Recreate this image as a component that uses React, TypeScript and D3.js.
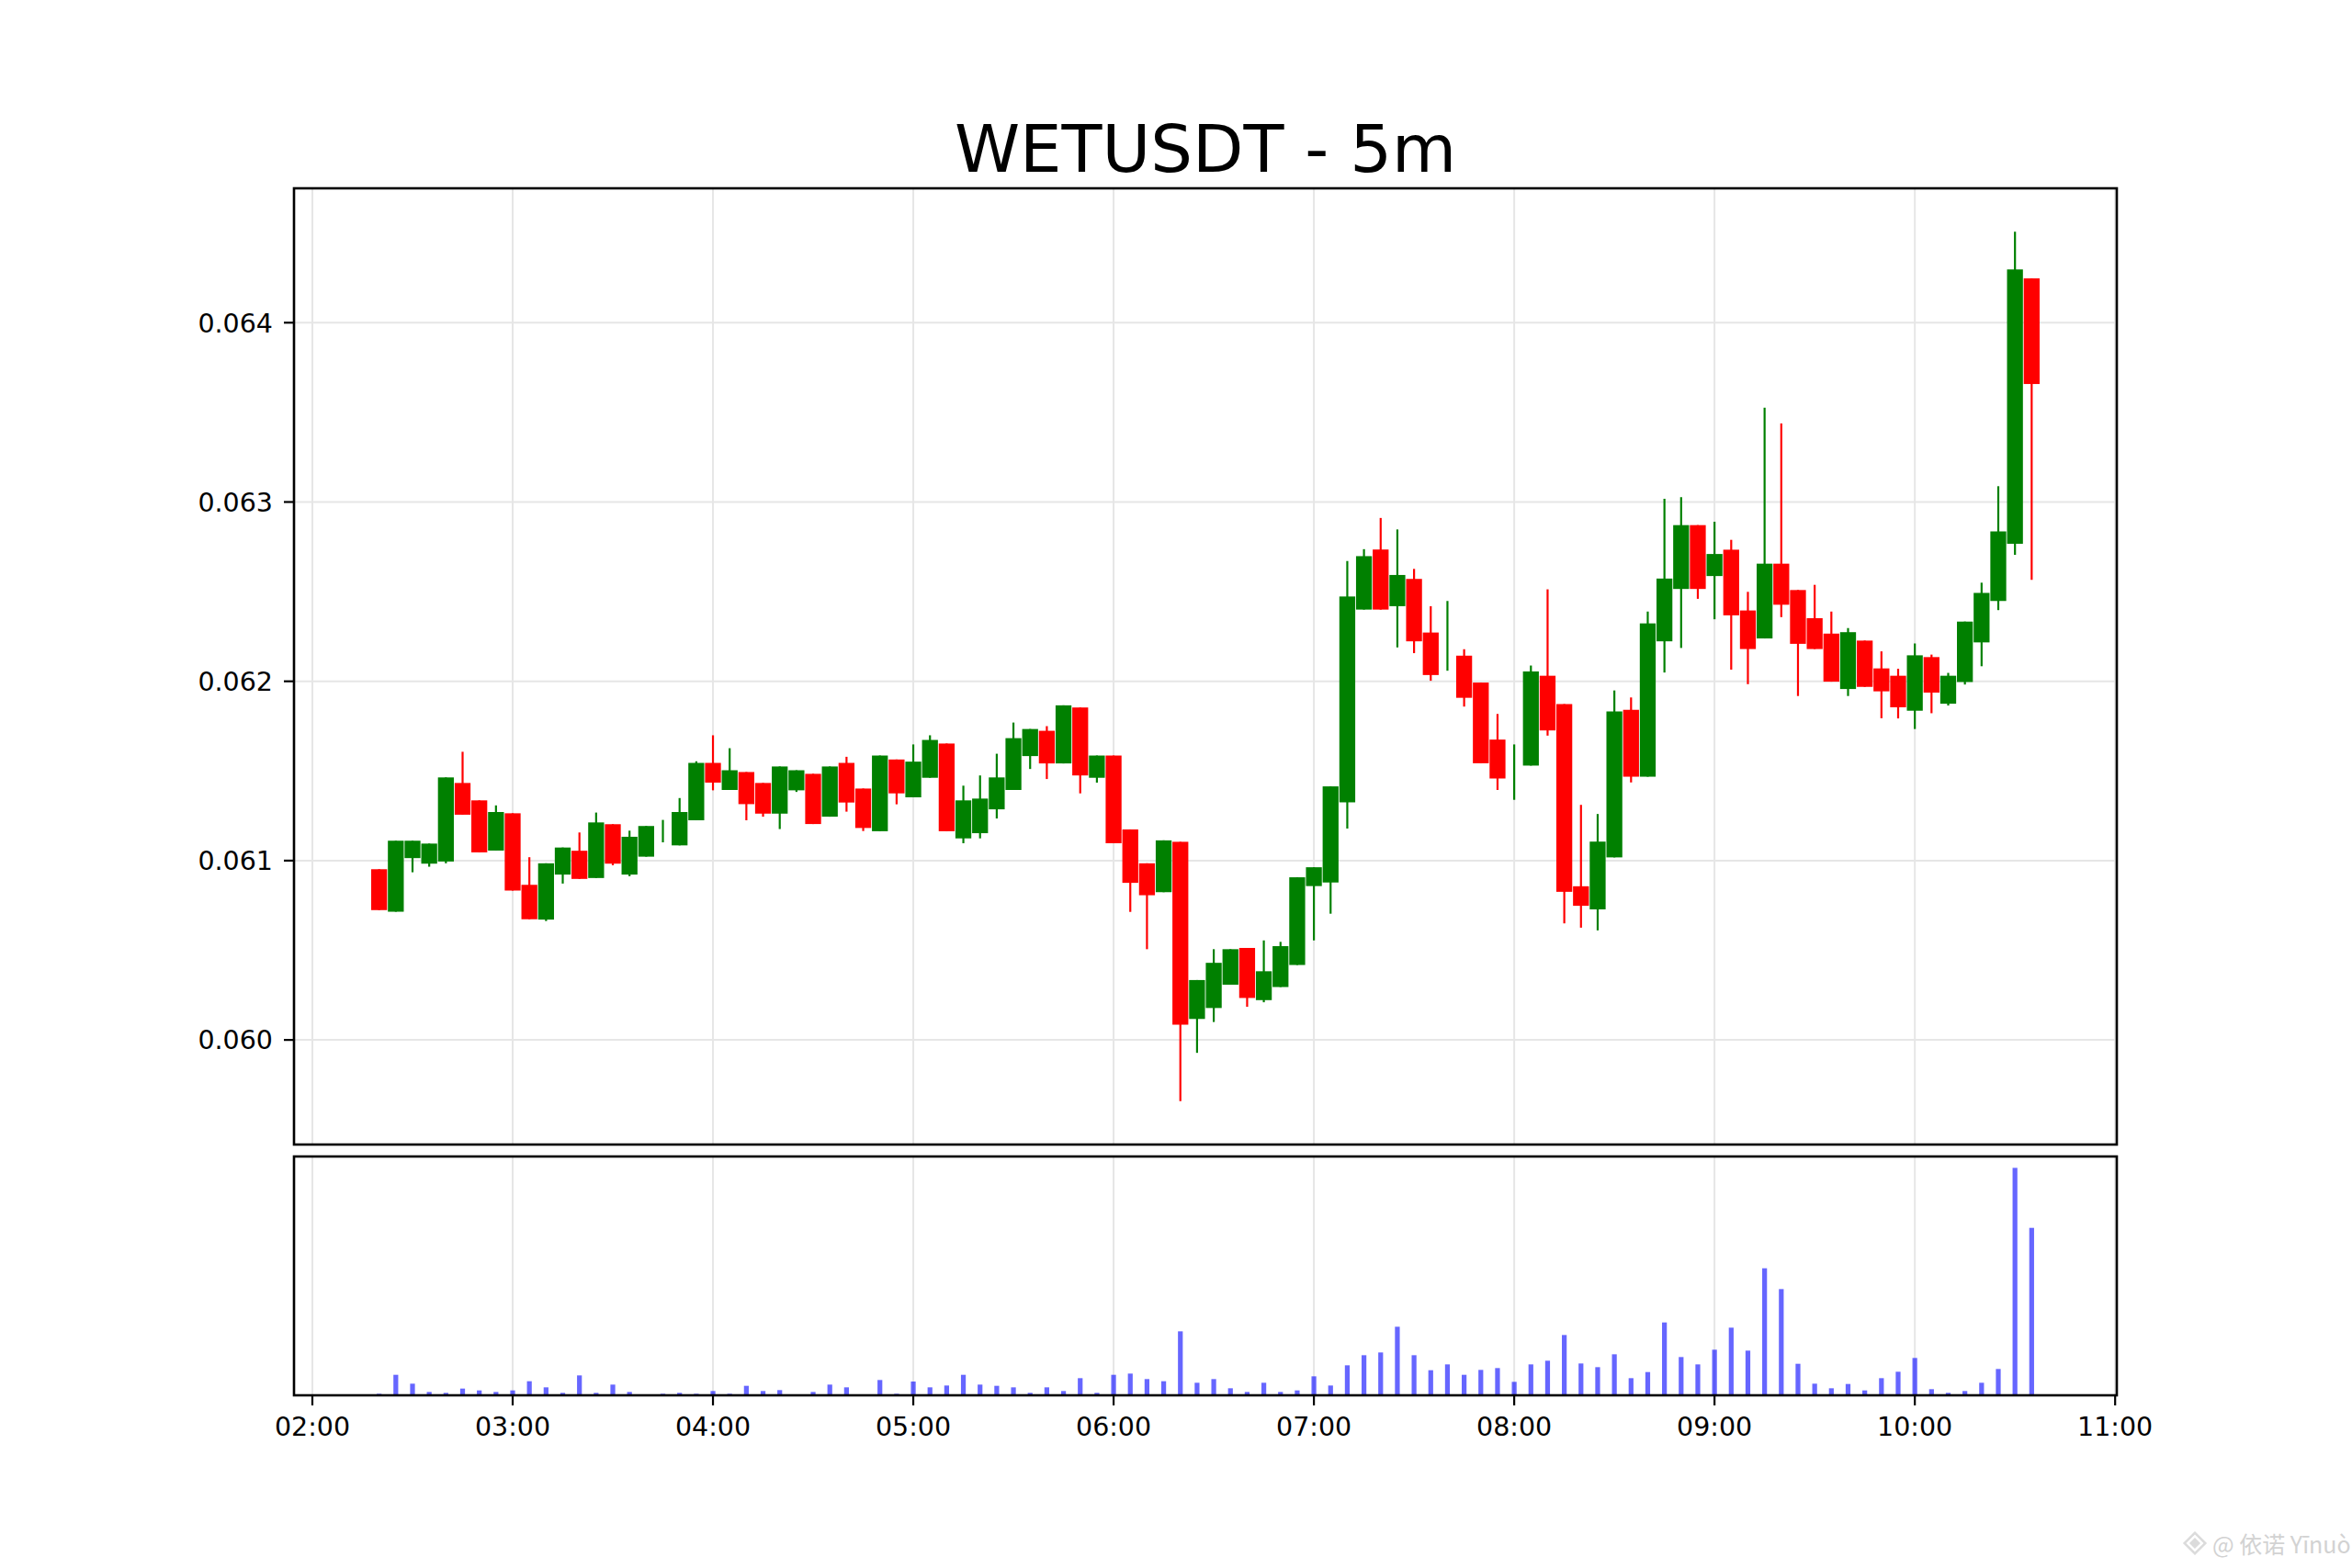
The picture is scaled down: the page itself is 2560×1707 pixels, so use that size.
import React from 'react';
import * as d3 from 'd3';

// ---- data ----
const TITLE = 'WETUSDT - 5m';
const START = '2024-01-01T02:20:00Z';
const STEP_MIN = 5;

const opens = [
  0.060952, 0.060715, 0.061014, 0.060983, 0.060995, 0.061433, 0.061336, 0.061056, 0.061264, 0.060865,
  0.060671, 0.060922, 0.061055, 0.060903, 0.061203, 0.060922, 0.061022, 0.061150, 0.061085, 0.061225,
  0.061545, 0.061394, 0.061494, 0.061433, 0.061262, 0.061392, 0.061484, 0.061245, 0.061545, 0.061402,
  0.061164, 0.061564, 0.061353, 0.061462, 0.061653, 0.061124, 0.061153, 0.061286, 0.061394, 0.061583,
  0.061724, 0.061542, 0.061854, 0.061462, 0.061586, 0.061174, 0.060985, 0.060824, 0.061105, 0.060117,
  0.060178, 0.060308, 0.060513, 0.060222, 0.060295, 0.060418, 0.060858, 0.060878, 0.061325, 0.062400,
  0.062735, 0.062419, 0.062571, 0.062272, 0.062250, 0.062143, 0.061993, 0.061675, 0.061500, 0.061530,
  0.062031, 0.061873, 0.060857, 0.060728, 0.061018, 0.061841, 0.061468, 0.062223, 0.062515, 0.062871,
  0.062587, 0.062734, 0.062395, 0.062239, 0.062656, 0.062509, 0.062352, 0.062266, 0.061957, 0.062227,
  0.062072, 0.062031, 0.061836, 0.062135, 0.061875, 0.061996, 0.062217, 0.062448, 0.062767, 0.064247,
];
const highs = [
  0.060952, 0.061111, 0.061111, 0.061095, 0.061464, 0.061607, 0.061336, 0.061308, 0.061264, 0.061019,
  0.060985, 0.061073, 0.061157, 0.061268, 0.061203, 0.061167, 0.061193, 0.061227, 0.061349, 0.061554,
  0.061699, 0.061627, 0.061494, 0.061433, 0.061525, 0.061504, 0.061484, 0.061525, 0.061579, 0.061402,
  0.061586, 0.061564, 0.061648, 0.061699, 0.061653, 0.061418, 0.061475, 0.061596, 0.061770, 0.061734,
  0.061750, 0.061866, 0.061854, 0.061586, 0.061586, 0.061174, 0.060985, 0.061113, 0.061105, 0.060334,
  0.060506, 0.060506, 0.060513, 0.060555, 0.060547, 0.060907, 0.060963, 0.061414, 0.062671, 0.062737,
  0.062911, 0.062847, 0.062627, 0.062419, 0.062448, 0.062179, 0.061993, 0.061818, 0.061648, 0.062088,
  0.062513, 0.061873, 0.061311, 0.061260, 0.061949, 0.061910, 0.062389, 0.063018, 0.063027, 0.062871,
  0.062890, 0.062789, 0.062499, 0.063526, 0.063438, 0.062509, 0.062538, 0.062389, 0.062297, 0.062227,
  0.062167, 0.062070, 0.062211, 0.062149, 0.062047, 0.062333, 0.062550, 0.063088, 0.064507, 0.064247,
];
const lows = [
  0.060724, 0.060715, 0.060935, 0.060966, 0.060985, 0.061256, 0.061046, 0.061056, 0.060833, 0.060673,
  0.060663, 0.060872, 0.060898, 0.060903, 0.060974, 0.060913, 0.061022, 0.061102, 0.061085, 0.061225,
  0.061392, 0.061394, 0.061225, 0.061245, 0.061176, 0.061383, 0.061204, 0.061245, 0.061273, 0.061165,
  0.061164, 0.061314, 0.061353, 0.061462, 0.061164, 0.061097, 0.061124, 0.061235, 0.061394, 0.061511,
  0.061455, 0.061542, 0.061375, 0.061435, 0.061097, 0.060714, 0.060506, 0.060824, 0.059659, 0.059928,
  0.060100, 0.060308, 0.060185, 0.060210, 0.060295, 0.060418, 0.060555, 0.060704, 0.061179, 0.062400,
  0.062400, 0.062189, 0.062157, 0.062003, 0.062059, 0.061859, 0.061543, 0.061394, 0.061339, 0.061530,
  0.061697, 0.060650, 0.060626, 0.060611, 0.061018, 0.061436, 0.061468, 0.062049, 0.062186, 0.062460,
  0.062346, 0.062065, 0.061984, 0.062239, 0.062358, 0.061918, 0.062180, 0.061998, 0.061918, 0.061969,
  0.061794, 0.061793, 0.061734, 0.061822, 0.061865, 0.061982, 0.062084, 0.062397, 0.062705, 0.062566,
];
const closes = [
  0.060724, 0.061111, 0.061111, 0.061095, 0.061464, 0.061256, 0.061046, 0.061271, 0.060833, 0.060673,
  0.060985, 0.061073, 0.060898, 0.061213, 0.060983, 0.061133, 0.061193, 0.061150, 0.061271, 0.061545,
  0.061435, 0.061504, 0.061315, 0.061262, 0.061525, 0.061504, 0.061204, 0.061525, 0.061324, 0.061182,
  0.061586, 0.061375, 0.061552, 0.061673, 0.061164, 0.061336, 0.061346, 0.061464, 0.061683, 0.061734,
  0.061542, 0.061866, 0.061475, 0.061586, 0.061097, 0.060876, 0.060807, 0.061113, 0.060085, 0.060334,
  0.060430, 0.060506, 0.060234, 0.060383, 0.060523, 0.060907, 0.060963, 0.061414, 0.062473, 0.062698,
  0.062400, 0.062593, 0.062223, 0.062035, 0.062250, 0.061908, 0.061543, 0.061458, 0.061500, 0.062055,
  0.061726, 0.060826, 0.060748, 0.061106, 0.061832, 0.061468, 0.062323, 0.062573, 0.062871, 0.062515,
  0.062710, 0.062368, 0.062180, 0.062656, 0.062427, 0.062209, 0.062180, 0.061998, 0.062274, 0.061969,
  0.061944, 0.061855, 0.062145, 0.061937, 0.062031, 0.062333, 0.062493, 0.062836, 0.064297, 0.063658,
];
const volumes = [
  5, 67, 38, 11, 8, 22, 16, 11, 16, 46,
  26, 8, 65, 8, 35, 11, 3, 5, 8, 5,
  14, 5, 31, 14, 17, 2, 11, 35, 26, 2,
  50, 5, 45, 26, 32, 67, 35, 31, 26, 8,
  26, 14, 56, 8, 67, 71, 53, 46, 209, 41,
  53, 23, 11, 41, 11, 16, 62, 32, 98, 131,
  140, 224, 131, 82, 101, 67, 83, 89, 44, 101,
  113, 197, 104, 92, 134, 56, 76, 238, 125, 101,
  149, 221, 146, 415, 347, 103, 38, 23, 37, 16,
  56, 77, 122, 20, 8, 14, 41, 86, 743, 547,
];
const yTickValues = [0.060, 0.061, 0.062, 0.063, 0.064];
const WATERMARK = '@ 依诺 Yīnuò';

const times = opens.map((_, i) => new Date(Date.parse(START) + i * STEP_MIN * 60000));

// ---- layout ----
const W = 2560;
const H = 1707;
const LEFT = 320;
const RIGHT = 2304;
const MAIN_TOP = 205;
const MAIN_BOTTOM = 1246;
const VOL_TOP = 1259;
const VOL_BOTTOM = 1519;
const FONT = "'DejaVu Sans', Verdana, sans-serif";
const GRID = '#e6e6e6';
const UP = '#008000';
const DOWN = '#ff0000';
const MIN = 60000;

export default function App() {
  const t0 = times[0].getTime();
  const t1 = times[times.length - 1].getTime();
  const x = d3.scaleUtc().domain([new Date(t0 - 25.5 * MIN), new Date(t1 + 25.5 * MIN)]).range([LEFT, RIGHT]);
  const lo = d3.min(lows) as number;
  const hi = d3.max(highs) as number;
  const pad = (hi - lo) * 0.05;
  const y = d3.scaleLinear().domain([lo - pad, hi + pad]).range([MAIN_BOTTOM, MAIN_TOP]);
  const vmax = d3.max(volumes) as number;
  const yv = d3.scaleLinear().domain([0, vmax * 1.05]).range([VOL_BOTTOM, VOL_TOP]);

  const xTicks = x.ticks(d3.utcHour.every(1) as any);
  const fmt = d3.utcFormat('%H:%M');
  const bodyHalf = (x(new Date(t0 + 2.38 * MIN)) - x(new Date(t0)));
  const volHalf = (x(new Date(t0 + 0.72 * MIN)) - x(new Date(t0)));

  return (
    <svg width={W} height={H} viewBox={`0 0 ${W} ${H}`}
      style={{ position: 'absolute', left: 0, top: 0, background: '#fff' }}>
      <rect x={0} y={0} width={W} height={H} fill="#fff" />
      {/* title */}
      <text x={(LEFT + RIGHT) / 2} y={187} textAnchor="middle" fontFamily={FONT} fontSize={72} fill="#000">{TITLE}</text>

      {/* main panel grid */}
      <g>
        {xTicks.map((t, i) => (
          <line key={'gx' + i} x1={x(t)} x2={x(t)} y1={MAIN_TOP} y2={MAIN_BOTTOM} stroke={GRID} strokeWidth={2} />
        ))}
        {yTickValues.map((v, i) => (
          <line key={'gy' + i} x1={LEFT} x2={RIGHT} y1={y(v)} y2={y(v)} stroke={GRID} strokeWidth={2} />
        ))}
      </g>

      {/* candles */}
      <g>
        {times.map((t, i) => {
          const up = closes[i] >= opens[i];
          const c = up ? UP : DOWN;
          const cx = x(t);
          const top = y(Math.max(opens[i], closes[i]));
          const bot = y(Math.min(opens[i], closes[i]));
          return (
            <g key={'c' + i}>
              <line x1={cx} x2={cx} y1={y(highs[i])} y2={y(lows[i])} stroke={c} strokeWidth={2.2} />
              <rect x={cx - bodyHalf} y={top} width={bodyHalf * 2} height={Math.max(0, bot - top)} fill={c} />
            </g>
          );
        })}
      </g>

      {/* main panel frame */}
      <rect x={LEFT} y={MAIN_TOP} width={RIGHT - LEFT} height={MAIN_BOTTOM - MAIN_TOP} fill="none" stroke="#000" strokeWidth={2.6} />

      {/* y ticks */}
      {yTickValues.map((v, i) => (
        <g key={'yt' + i}>
          <line x1={LEFT - 11} x2={LEFT} y1={y(v)} y2={y(v)} stroke="#000" strokeWidth={2.2} />
          <text x={LEFT - 23} y={y(v)} dy="0.36em" textAnchor="end" fontFamily={FONT} fontSize={28.5} fill="#000">{d3.format('.3f')(v)}</text>
        </g>
      ))}

      {/* volume panel */}
      <g>
        {xTicks.map((t, i) => (
          <line key={'vgx' + i} x1={x(t)} x2={x(t)} y1={VOL_TOP} y2={VOL_BOTTOM} stroke={GRID} strokeWidth={2} />
        ))}
        {times.map((t, i) => (
          <rect key={'v' + i} x={x(t) - volHalf} y={yv(volumes[i])} width={volHalf * 2}
            height={VOL_BOTTOM - yv(volumes[i])} fill="#0000ff" fillOpacity={0.6} />
        ))}
        <rect x={LEFT} y={VOL_TOP} width={RIGHT - LEFT} height={VOL_BOTTOM - VOL_TOP} fill="none" stroke="#000" strokeWidth={2.6} />
        {xTicks.map((t, i) => (
          <g key={'xt' + i}>
            <line x1={x(t)} x2={x(t)} y1={VOL_BOTTOM} y2={VOL_BOTTOM + 11} stroke="#000" strokeWidth={2.2} />
            <text x={x(t)} y={1563} textAnchor="middle" fontFamily={FONT} fontSize={28.5} fill="#000">{fmt(t)}</text>
          </g>
        ))}
      </g>

      {/* watermark */}
      <g opacity={0.75}>
        <g transform="translate(2389,1680) rotate(45)" fill="none" stroke="#cfcfcf" strokeWidth={2.5}>
          <rect x={-8} y={-8} width={16} height={16} />
          <rect x={-3} y={-3} width={6} height={6} fill="#cfcfcf" />
        </g>
        <text x={2408} y={1691} fontFamily="'Noto Sans CJK SC', 'Noto Sans', sans-serif" fontSize={25} fill="#c4c4c4">{WATERMARK}</text>
      </g>
    </svg>
  );
}
